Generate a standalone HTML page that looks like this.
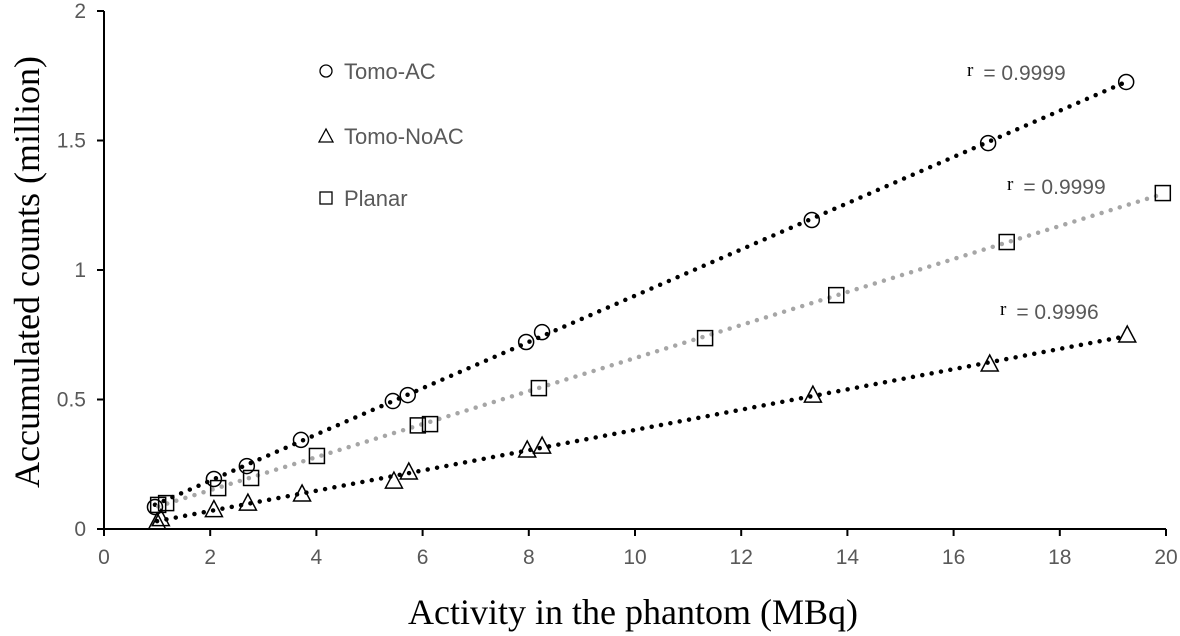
<!DOCTYPE html>
<html><head><meta charset="utf-8"><style>
body{margin:0;background:#fff}
svg{display:block}
.tk{font-family:"Liberation Sans",sans-serif;font-size:21px;fill:#595959}
.ttl{font-family:"Liberation Serif",serif;font-size:36px;fill:#000}
.lg{font-family:"Liberation Sans",sans-serif;font-size:22px;fill:#595959}
</style></head><body>
<svg id="c" width="1180" height="636"></svg>
<script>
const xTicks=[0,2,4,6,8,10,12,14,16,18,20];
const yTicks=[0,0.5,1,1.5,2];
const yTickLabels=["0","0.5","1","1.5","2"];
const acX=[0.96,2.07,2.69,3.71,5.44,5.72,7.95,8.25,13.33,16.65,19.25];
const acY=[0.085,0.193,0.243,0.344,0.494,0.517,0.722,0.76,1.193,1.49,1.726];
const noacX=[1.0,1.07,2.07,2.71,3.73,5.46,5.74,7.97,8.25,13.35,16.68,19.27];
const noacY=[0.027,0.04,0.075,0.1,0.135,0.185,0.22,0.305,0.32,0.517,0.637,0.749];
const plX=[1.02,1.17,2.15,2.77,4.01,5.91,6.14,8.19,11.32,13.79,17.0,19.94];
const plY=[0.093,0.1,0.158,0.197,0.282,0.4,0.405,0.544,0.737,0.903,1.108,1.297];
const rLabels=["0.9999","0.9999","0.9996"];
const NS="http://www.w3.org/2000/svg";
const svg=document.getElementById('c');
const X=v=>104+53.1*v, Y=v=>529-259*v;
function mk(t,a,p){const e=document.createElementNS(NS,t);for(const k in a)e.setAttribute(k,a[k]);(p||svg).appendChild(e);return e;}
let ax=mk('line',{x1:104,y1:529,x2:104,y2:11,stroke:'#000','stroke-width':2});


ax=mk('line',{x1:97,y1:529,x2:1166,y2:529,stroke:'#000','stroke-width':2});


xTicks.forEach(v=>{
 mk('line',{x1:X(v),y1:529,x2:X(v),y2:536,stroke:'#000','stroke-width':2});
 const t=mk('text',{x:X(v),y:564,'text-anchor':'middle',class:'tk'});t.textContent=v;
 
 
});
yTicks.forEach((v,i)=>{
 mk('line',{x1:97,y1:Y(v),x2:104,y2:Y(v),stroke:'#000','stroke-width':2});
 const t=mk('text',{x:86,y:Y(v)+7,'text-anchor':'end',class:'tk'});t.textContent=yTickLabels[i];
 
 
});
let t=mk('text',{x:633,y:624,'text-anchor':'middle',class:'ttl'});t.textContent='Activity in the phantom (MBq)';


t=mk('text',{x:0,y:0,'text-anchor':'middle',class:'ttl',transform:'translate(39,272) rotate(-90)'});t.textContent='Accumulated counts (million)';


function fit(xs,ys){const n=xs.length;let sx=0,sy=0,sxx=0,sxy=0;for(let i=0;i<n;i++){sx+=xs[i];sy+=ys[i];sxx+=xs[i]*xs[i];sxy+=xs[i]*ys[i];}const b=(n*sxy-sx*sy)/(n*sxx-sx*sx);return [b,(sy-b*sx)/n];}
function trend(xs,ys,col,name){const [b,a]=fit(xs,ys);const x0=Math.min(...xs),x1=Math.max(...xs);
 const l=mk('line',{x1:X(x0),y1:Y(a+b*x0),x2:X(x1),y2:Y(a+b*x1),stroke:col,'stroke-width':4.5,'stroke-dasharray':'0 9.5','stroke-linecap':'round'});
 
 }
trend(acX,acY,'#000','trendline-tomo-ac');
trend(plX,plY,'#a6a6a6','trendline-planar');
trend(noacX,noacY,'#000','trendline-tomo-noac');
function marker(type,cx,cy,g){const s={fill:'none',stroke:'#000','stroke-width':1.5};
 if(type==='c')return mk('circle',Object.assign({cx:cx,cy:cy,r:7.5},s),g);
 if(type==='s')return mk('rect',Object.assign({x:cx-7.5,y:cy-7.5,width:15,height:15},s),g);
 return mk('polygon',Object.assign({points:`${cx},${cy-9} ${cx-8.5},${cy+7} ${cx+8.5},${cy+7}`},s),g);}
[[acX,acY,'c','tomo-ac'],[noacX,noacY,'t','tomo-noac'],[plX,plY,'s','planar']].forEach(([xs,ys,ty,nm])=>{
 xs.forEach((x,i)=>{const m=marker(ty,X(x),Y(ys[i]));
  
  });
});
[['c','Tomo-AC',71],['t','Tomo-NoAC',136],['s','Planar',198]].forEach(([ty,lab,y])=>{
 const g=mk('g',{});
 
 
 if(ty==='c')mk('circle',{cx:326,cy:y,r:6,fill:'none',stroke:'#000','stroke-width':1.3},g);
 else if(ty==='s')mk('rect',{x:320,y:y-6,width:12,height:12,fill:'none',stroke:'#000','stroke-width':1.3},g);
 else mk('polygon',{points:`326,${y-7} 319,${y+6} 333,${y+6}`,fill:'none',stroke:'#000','stroke-width':1.3},g);
 const tx=mk('text',{x:344,y:y+8,class:'lg'},g);tx.textContent=lab;
});
[[967,80],[1007,194],[1000,319]].forEach(([x,y],i)=>{
 const g=mk('text',{x:x,y:y,class:'lg'});
 
 
 const a=mk('tspan',{'font-family':'Liberation Serif,serif',fill:'#000','font-size':'19px',dy:-4},g);a.textContent='r';
 const b=mk('tspan',{dx:10,dy:4,'font-size':'21px'},g);b.textContent='= '+rLabels[i];
});
</script>
</body></html>
